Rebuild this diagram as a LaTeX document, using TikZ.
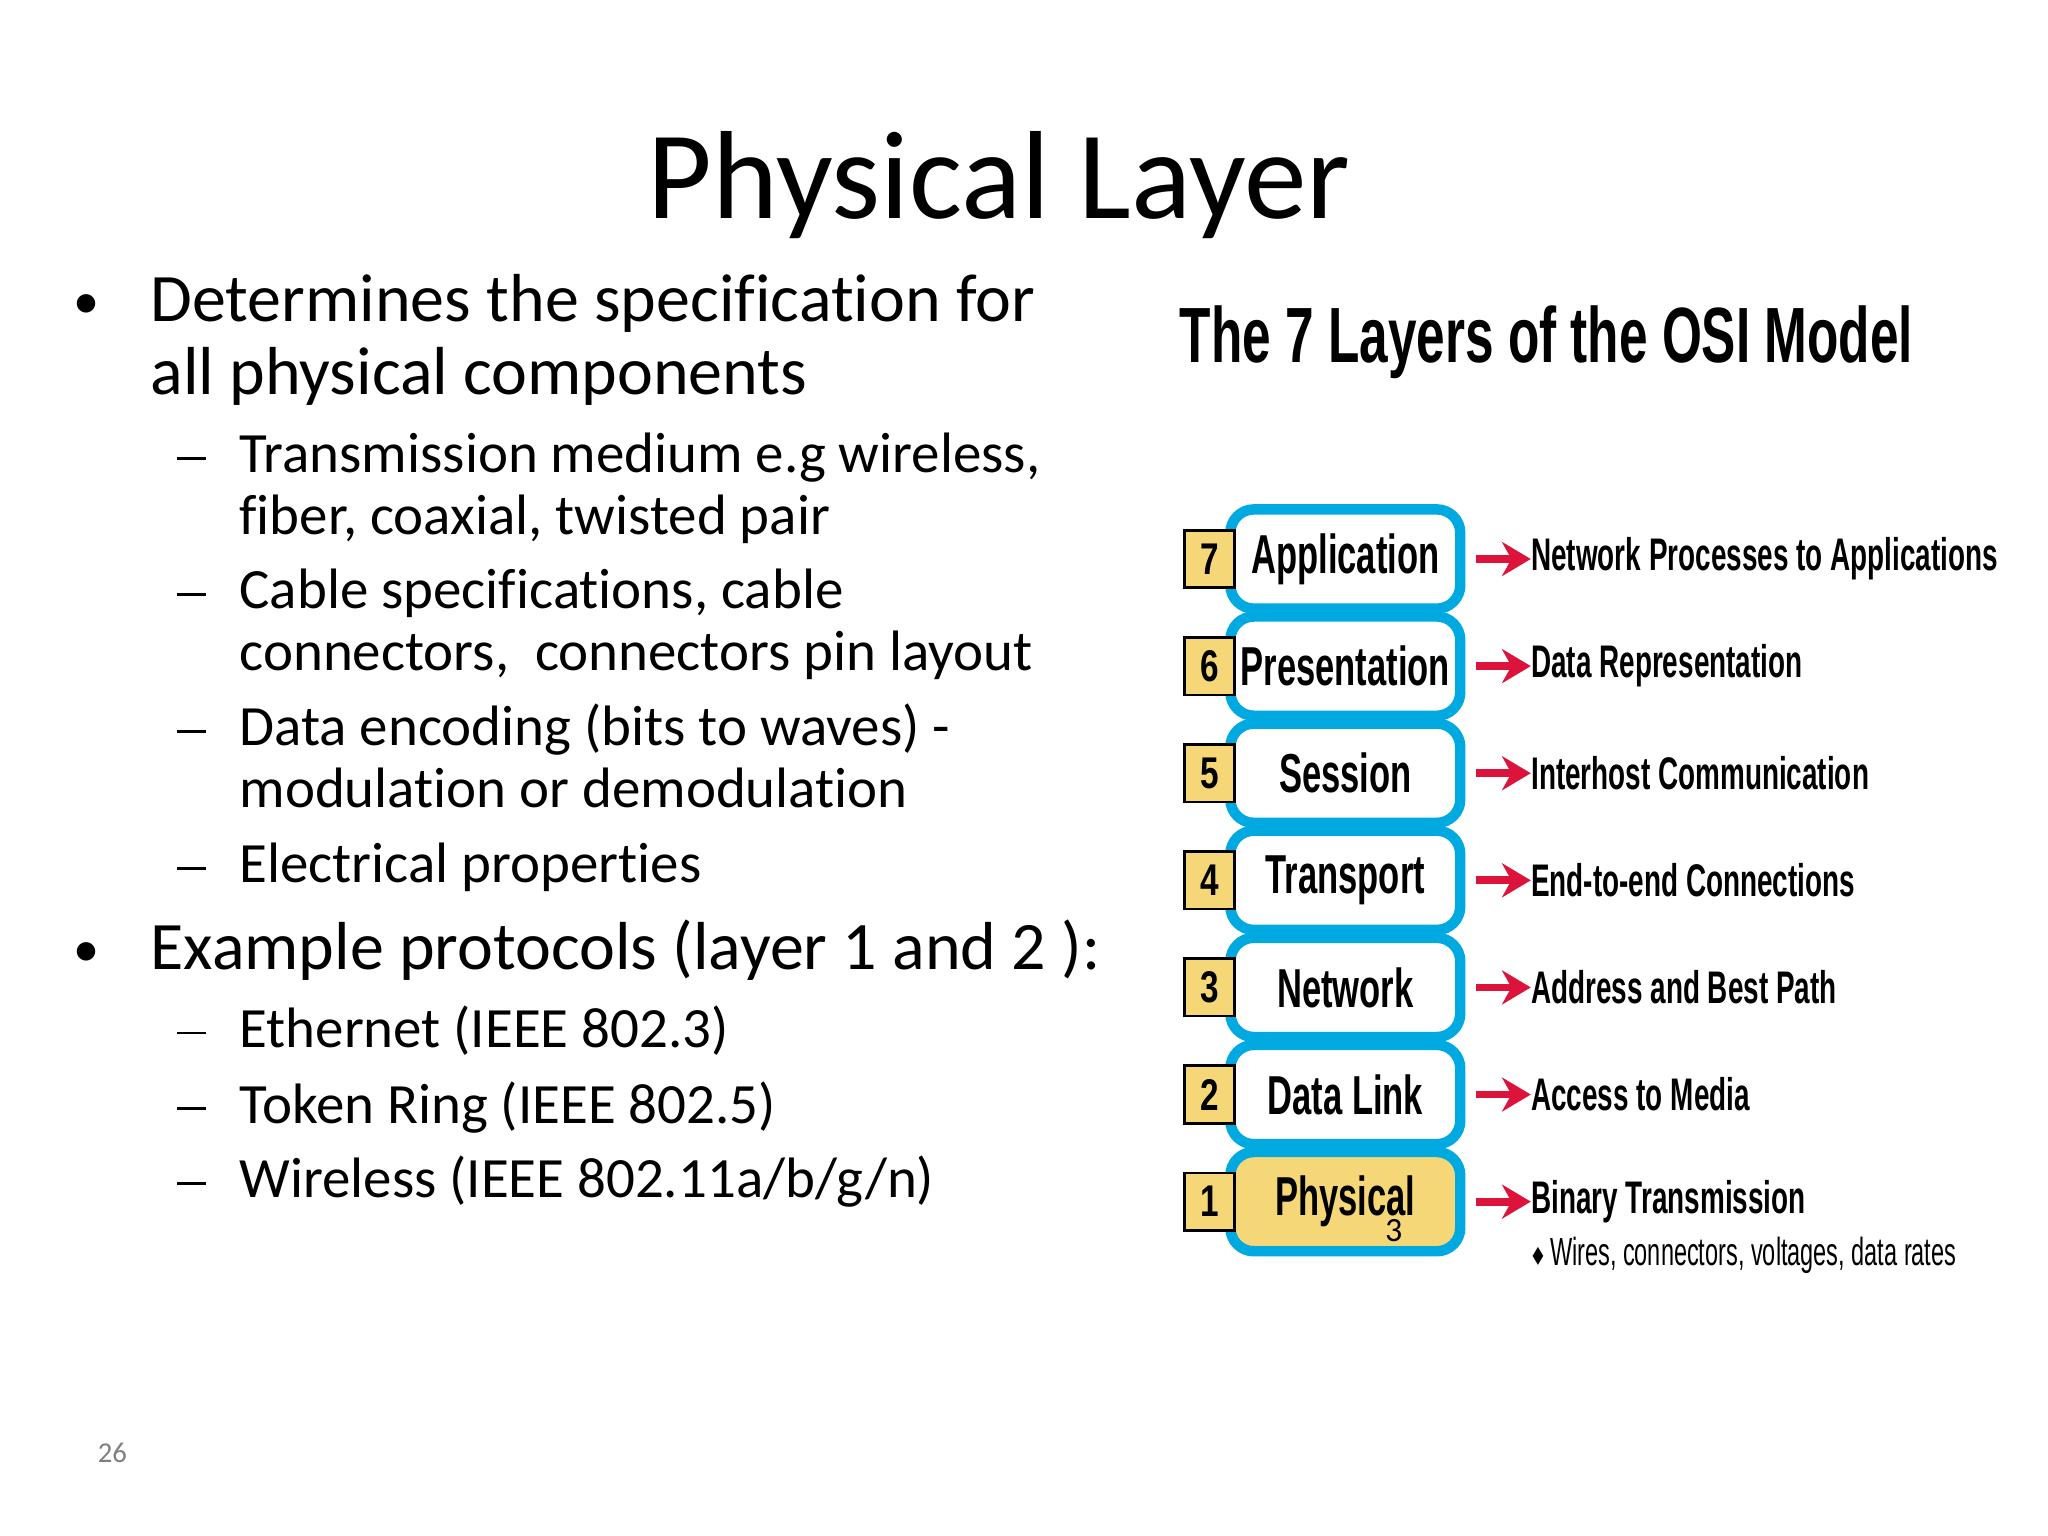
\documentclass[tikz,border=0pt]{standalone}
\usepackage{fontspec}
\usetikzlibrary{arrows.meta}
\setmainfont[Ligatures={NoCommon,NoRequired}]{Carlito}
\newfontfamily\osif{Liberation Sans}
\newfontfamily\djv{DejaVu Sans}
\definecolor{cyanb}{RGB}{0,170,225}
\definecolor{yel}{RGB}{245,215,120}
\definecolor{arr}{RGB}{220,20,60}
\begin{document}
\begin{tikzpicture}[x=0.5pt,y=-0.5pt,
  txt/.style={anchor=base west,inner sep=0,font=\fontsize{26}{30}\selectfont},
  bul/.style={anchor=base west,inner sep=0,font=\fontsize{20}{20}\selectfont},
  sub/.style={anchor=base west,inner sep=0,font=\fontsize{21.8}{26}\selectfont},
  dsh/.style={anchor=base west,inner sep=0,font=\fontsize{21.8}{26}\selectfont},
  layer/.style={draw=cyanb,line width=4pt,rounded corners=9pt,minimum width=88pt,minimum height=38pt,fill=white,inner sep=0,font=\osif\bfseries\fontsize{21}{21}\selectfont},
  num/.style={draw=black,line width=1pt,fill=yel,minimum width=19pt,minimum height=22pt,inner sep=0,font=\osif\bfseries\fontsize{17}{17}\selectfont},
  desc/.style={anchor=west,inner sep=0,font=\osif\bfseries\fontsize{17.5}{17}\selectfont},
  arrow/.style={draw=arr,line width=3pt,-{Stealth[length=11pt,width=13pt]}}]
\newcommand\mydash{\rule[0.23em]{11pt}{1.1pt}}
\useasboundingbox (0,0) rectangle (1568,1176);
\fill[white] (0,0) rectangle (1568,1176);
\node[inner sep=0,font=\fontsize{48}{48}\selectfont] (title) at (765,142) {Physical Layer};
% left bullets
\node[bul] (b1) at (56,244) {•};
\node[txt] (t1a) at (115,246) {Determines the specification for};
\node[txt] (t1b) at (115,302) {all physical components};
\node[dsh] (d1) at (135,362) {\mydash}; \node[sub] (s1a) at (183,362) {Transmission medium e.g wireless,};
\node[sub] (s1b) at (183,409) {fiber, coaxial, twisted pair};
\node[dsh] (d2) at (135,466) {\mydash}; \node[sub] (s2a) at (183,466) {Cable specifications, cable};
\node[sub] (s2b) at (183,513) {connectors,\ \ connectors pin layout};
\node[dsh] (d3) at (135,571) {\mydash}; \node[sub] (s3a) at (183,571) {Data encoding (bits to waves) -};
\node[sub] (s3b) at (183,618) {modulation or demodulation};
\node[dsh] (d4) at (135,676) {\mydash}; \node[sub] (s4a) at (183,676) {Electrical properties};
\node[bul] (b2) at (56,740) {•};
\node[txt] (t2) at (115,742) {Example protocols (layer 1 and 2 ):};
\node[dsh] (d5) at (135,802) {\mydash}; \node[sub] (s5) at (183,802) {Ethernet (IEEE 802.3)};
\node[dsh] (d6) at (135,860) {\mydash}; \node[sub] (s6) at (183,860) {Token Ring (IEEE 802.5)};
\node[dsh] (d7) at (135,917) {\mydash}; \node[sub] (s7) at (183,917) {Wireless (IEEE 802.11a/b/g/n)};
\node[inner sep=0,text=gray,font=\fontsize{11}{11}\selectfont] (pg) at (86,1112) {26};
% OSI
\node[anchor=west,inner sep=0,font=\osif\bfseries\fontsize{30}{30}\selectfont] (osititle) at (903,262) {\scalebox{0.655}[1]{The 7 Layers of the OSI Model}};
\foreach \n/\name/\d [count=\i] in {7/Application/Network Processes to Applications,6/Presentation/Data Representation,5/Session/Interhost Communication,4/Transport/End-to-end Connections,3/Network/Address and Best Path,2/Data Link/Access to Media,1/Physical/Binary Transmission}{
  \pgfmathsetmacro{\yy}{428+82*(\i-1)}
  \ifnum\i=7
    \node[layer,fill=yel] (L\n) at (1030,\yy) {\scalebox{0.63}[1]{\name}};
  \else
    \node[layer] (L\n) at (1030,\yy) {\scalebox{0.63}[1]{\name}};
  \fi
  \node[num] (N\n) at (926,\yy) {\scalebox{0.75}[1]{\n}};
  \node[desc] (D\n) at (1172,\yy) {\scalebox{0.61}[1]{\d}};
  \draw[arrow] (L\n.east) ++(4pt,0) coordinate (A\n) -- (D\n.west);
}
\node[anchor=west,inner sep=0,font=\osif\fontsize{15}{15}\selectfont] (wires) at (1173,961) {\scalebox{0.6}[1]{\raisebox{1pt}{\djv\fontsize{9}{9}\selectfont◆}\ Wires, connectors, voltages, data rates}};
\node[inner sep=0,font=\rmfamily\fontsize{13}{13}\selectfont] (three) at (1067,942) {3};
\end{tikzpicture}
\end{document}
